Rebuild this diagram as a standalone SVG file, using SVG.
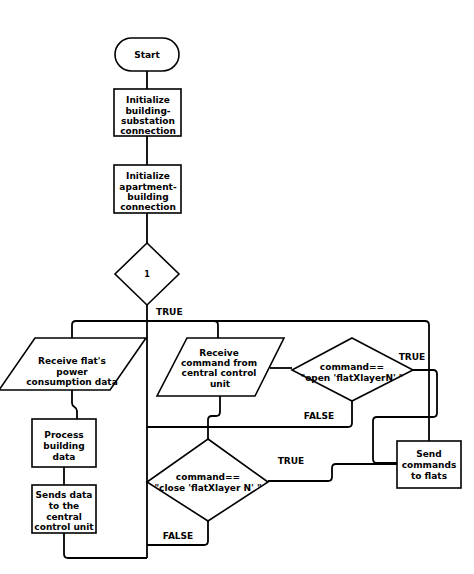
<svg xmlns="http://www.w3.org/2000/svg" width="474" height="574" viewBox="0 0 474 574">
<style>
.s{fill:#fff;stroke:#000;stroke-width:1.6}
.c{fill:none;stroke:#000;stroke-width:1.8}
text{font-family:"DejaVu Sans",Verdana,sans-serif;font-weight:bold;font-size:9px;fill:#000;text-anchor:middle}
.l{text-anchor:start}
</style>
<rect width="474" height="574" fill="#fff"/>
<g id="connectors">
<path class="c" d="M147,71V89"/>
<path class="c" d="M147,136V165"/>
<path class="c" d="M147,213V243"/>
<path class="c" d="M147,305V558"/>
<path class="c" d="M64,533V554Q64,558 68,558H147"/>
<path class="c" d="M76,321H425Q429,321 429,325V441"/>
<path class="c" d="M76,321Q72,321 72,325V338"/>
<path class="c" d="M147,321H214Q218,321 218,325V338"/>
<path class="c" d="M72,390V403C72,408 77,406 77,411V419"/>
<path class="c" d="M64,467V485"/>
<path class="c" d="M220,396V412Q220,416 216,416H212Q208,416 208,420V439"/>
<path class="c" d="M270,368H292"/>
<path class="c" d="M352,401V423Q352,427 348,427H147"/>
<path class="c" d="M413,370H433Q437,370 437,374V413Q437,417 433,417H377Q373,417 373,421V459Q373,463 377,463H397"/>
<path class="c" d="M268,481H328Q332,481 332,477V468Q332,464 336,464H397"/>
<path class="c" d="M208,521V541Q208,545 204,545H147"/>
</g>
<g id="start"><rect class="s" x="115" y="38" width="64" height="33" rx="16.5"/><text x="147" y="58">Start</text></g>
<g id="init1"><rect class="s" x="114" y="89" width="67" height="47"/>
<text x="148" y="103">Initialize</text><text x="148" y="114">building-</text><text x="148" y="124">substation</text><text x="148" y="134">connection</text></g>
<g id="init2"><rect class="s" x="114" y="165" width="67" height="48"/>
<text x="148" y="179">Initialize</text><text x="148" y="190">apartment-</text><text x="148" y="200">building</text><text x="148" y="210">connection</text></g>
<g id="loop"><polygon class="s" points="147,243 179,274 147,305 115,274"/><text x="147" y="277" style="font-size:8px">1</text></g>
<text class="l" x="156" y="315">TRUE</text>
<g id="recvflat"><polygon class="s" points="35,338 146,338 110,390 -1,390"/>
<text x="72" y="364">Receive flat's</text><text x="72" y="375">power</text><text x="72" y="385">consumption data</text></g>
<g id="process"><rect class="s" x="32" y="419" width="64" height="48"/>
<text x="64" y="438">Process</text><text x="64" y="449">building</text><text x="64" y="460">data</text></g>
<g id="sends"><rect class="s" x="32" y="485" width="64" height="48"/>
<text x="64" y="498">Sends data</text><text x="64" y="509">to the</text><text x="64" y="520">central</text><text x="64" y="530">control unit</text></g>
<g id="recvcmd"><polygon class="s" points="187,338 284,338 255,396 157,396"/>
<text x="219" y="356">Receive</text><text x="219" y="366">command from</text><text x="219" y="376">central control</text><text x="220" y="387">unit</text></g>
<g id="opendec"><polygon class="s" points="352,338 413,370 352,401 292,370"/>
<text x="352" y="370">command==</text><text x="352" y="381">"open 'flatXlayerN' "</text></g>
<text x="412" y="360">TRUE</text>
<text x="319" y="419">FALSE</text>
<g id="closedec"><polygon class="s" points="208,439 268,482 208,521 147,482"/>
<text x="208" y="480">command==</text><text x="208" y="491">"close 'flatXlayer N' "</text></g>
<text x="291" y="464">TRUE</text>
<text x="178" y="539">FALSE</text>
<g id="sendcmd"><rect class="s" x="397" y="441" width="64" height="47"/>
<text x="429" y="457">Send</text><text x="429" y="468">commands</text><text x="429" y="479">to flats</text></g>
</svg>
